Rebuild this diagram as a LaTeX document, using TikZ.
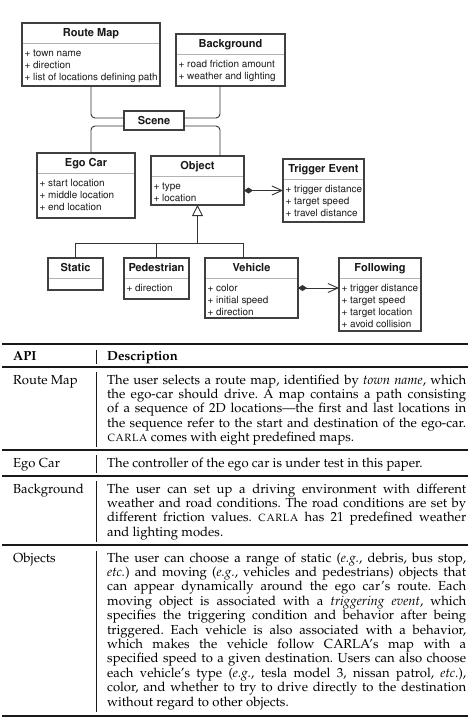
\documentclass[tikz,border=0pt]{standalone}
\usepackage[T1]{fontenc}
\renewcommand\rmdefault{ppl}
\renewcommand\sfdefault{phv}
\usetikzlibrary{arrows.meta,calc,fit}
\definecolor{boxc}{gray}{0.25}
\frenchspacing
\newcommand\attrs[1]{\begin{tabular}[t]{@{}l@{}}#1\end{tabular}}
\newcommand\jl[1]{\hbox to\hsize{#1}}
\newcommand\jlast[1]{\hbox{#1}}
\newcommand\umlclass[4]{%
  \node[box,fit={#2}] (#1) {};
  \node[ttl] (#1T) at ($(#1.north)+(0,13)$) {#3};
  \draw[div] ($(#1.north west)+(0.6,20)$) -- ($(#1.north east)+(-0.6,20)$);
  \node[attr] (#1A) at ($(#1.north west)+(2.5,33.8)$) {\attrs{#4}};
}
\begin{document}
\begin{tikzpicture}[x=1pt,y=-1pt,
  box/.style={draw=boxc,line width=1.1pt,fill=white,inner sep=0pt,outer sep=0pt},
  ttl/.style={font=\sffamily\bfseries\fontsize{11}{13}\selectfont,inner sep=0pt,anchor=base,text=black!90},
  attr/.style={font=\sffamily\fontsize{9.9}{11.8}\selectfont,inner sep=0pt,anchor=base west,text=black!90},
  div/.style={draw=black!30,line width=1pt},
  conn/.style={draw=black!80,line width=0.9pt},
  comp/.style={conn,{Diamond[length=9pt,width=6pt]}-{Straight Barb[length=10pt,width=9pt]}},
  gen/.style={conn,{Triangle[open,length=11pt,width=11pt,fill=white]}-},
  lbl/.style={font=\rmfamily\fontsize{13.1}{14.4}\selectfont,inner sep=0pt,anchor=base west},
  hd/.style={lbl,font=\rmfamily\bfseries\fontsize{13.1}{14.4}\selectfont},
  thickrule/.style={draw=black!90,line width=2.4pt},
  midrule/.style={draw=black!90,line width=1.2pt},
  sep/.style={draw=black!90,line width=0.8pt}
]
\useasboundingbox (0,0) rectangle (474,724);
\fill[white] (0,0) rectangle (474,724);

% ---------- UML diagram ----------
\umlclass{route}{(22,23) (160,86)}{Route Map}{+ town name\\+ direction\\+ list of locations defining path}
\umlclass{bg}{(176,34) (285,86)}{Background}{+ road friction amount\\+ weather and lighting}
\node[box,fit={(124,111) (184,130)}] (scene) {};
\node[ttl] (sceneT) at ($(scene.north)+(0,13.5)$) {Scene};
\umlclass{ego}{(37,153) (135,218)}{Ego Car}{+ start location\\+ middle location\\+ end location}
\umlclass{obj}{(151,156) (244,205)}{Object}{+ type\\+ location}
\umlclass{trig}{(283,159) (364,222)}{Trigger Event}{+ trigger distance\\+ target speed\\+ travel distance}
\node[box,fit={(48,258) (103,290)}] (stat) {};
\node[ttl] (statT) at ($(stat.north)+(0,13)$) {Static};
\draw[div] ($(stat.north west)+(0.6,20)$) -- ($(stat.north east)+(-0.6,20)$);
\umlclass{ped}{(124,258) (189,299)}{Pedestrian}{+ direction}
\umlclass{veh}{(205,258) (298,318)}{Vehicle}{+ color\\+ initial speed\\+ direction}
\umlclass{fol}{(339,258) (421,331)}{Following}{+ trigger distance\\+ target speed\\+ target location\\+ avoid collision}

% scene connectors
\coordinate (jr) at ($(scene.east)+(36,0)$);
\draw[conn,rounded corners=4pt] (route.south) |- ($(scene.west)+(0,-2.5)$);
\draw[conn,rounded corners=4pt] ($(scene.west)+(0,5.5)$) -| (route.south |- ego.north);
\draw[conn,rounded corners=4pt] ($(scene.east)+(0,-2.5)$) -| (jr |- bg.south);
\draw[conn,rounded corners=4pt] ($(scene.east)+(0,5.5)$) -| (jr |- obj.north);

% compositions
\draw[comp] (trig.west -| obj.east) -- (trig.west);
\draw[comp] (veh.east) -- (veh.east -| fol.west);

% generalisation
\coordinate (jb) at ($(obj.south)+(0,38)$);
\draw[gen] (obj.south) -- (jb);
\draw[conn] (stat.north) |- (jb);
\draw[conn] (ped.north) |- (jb);
\draw[conn] ($(veh.north west)+(38,0)$) |- (jb);

% ---------- table ----------
\draw[thickrule] (2,344) -- (468,344);
\node[hd] (hApi) at (13,360.5) {API};
\node[hd] (hDesc) at (107,360.5) {Description};
\draw[sep] (96,350) -- (96,364);
\draw[midrule] (2,367) -- (468,367);

\node[lbl] (lRoute) at (13,384) {Route Map};
\draw[sep] (96,372) -- (96,447);
\node[lbl] (dRoute) at (107,384) {\parbox[t]{359pt}{%
\jl{The user selects a route map, identified by \textit{town name}, which}
\jl{the ego-car should drive. A map contains a path consisting}
\jl{of a sequence of 2D locations---the first and last locations in}
\jl{the sequence refer to the start and destination of the ego-car.}
\jlast{\textsc{carla} comes with eight predefined maps.}}};
\draw[midrule] (2,450) -- (468,450);

\node[lbl] (lEgo) at (13,467) {Ego Car};
\draw[sep] (96,455) -- (96,473);
\node[lbl] (dEgo) at (107,467) {The controller of the ego car is under test in this paper.};
\draw[midrule] (2,476) -- (468,476);

\node[lbl] (lBg) at (13,493) {Background};
\draw[sep] (96,481) -- (96,542);
\node[lbl] (dBg) at (107,493) {\parbox[t]{359pt}{%
\jl{The user can set up a driving environment with different}
\jl{weather and road conditions. The road conditions are set by}
\jl{different friction values. \textsc{carla} has 21 predefined weather}
\jlast{and lighting modes.}}};
\draw[midrule] (2,545) -- (468,545);

\node[lbl] (lObj) at (13,562) {Objects};
\draw[sep] (96,551) -- (96,712);
\node[lbl] (dObj) at (107,562) {\parbox[t]{359pt}{%
\jl{The user can choose a range of static (\textit{e.g.}, debris, bus stop,}
\jl{\textit{etc.}) and moving (\textit{e.g.}, vehicles and pedestrians) objects that}
\jl{can appear dynamically around the ego car's route. Each}
\jl{moving object is associated with a \textit{triggering event}, which}
\jl{specifies the triggering condition and behavior after being}
\jl{triggered. Each vehicle is also associated with a behavior,}
\jl{which makes the vehicle follow CARLA's map with a}
\jl{specified speed to a given destination. Users can also choose}
\jl{each vehicle's type (\textit{e.g.}, tesla model 3, nissan patrol, \textit{etc.}),}
\jl{color, and whether to try to drive directly to the destination}
\jlast{without regard to other objects.}}};
\draw[thickrule] (2,716) -- (468,716);
\end{tikzpicture}
\end{document}
